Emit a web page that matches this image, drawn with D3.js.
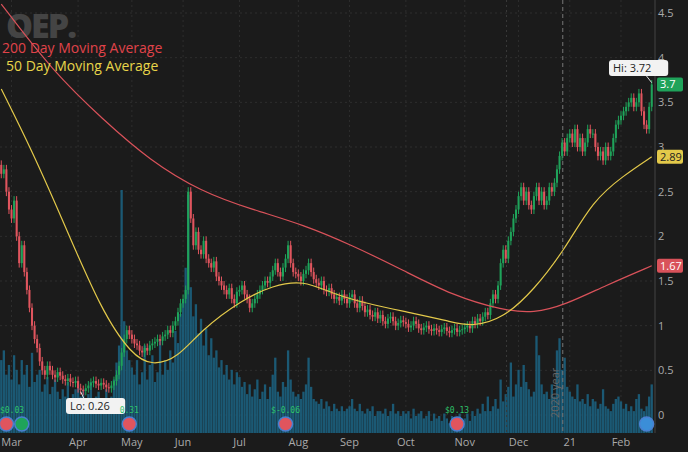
<!DOCTYPE html>
<html><head><meta charset="utf-8">
<script src="https://cdn.jsdelivr.net/npm/d3@7"></script>
<style>body{margin:0;background:#1b1b1b}svg{display:block;font-family:"Open Sans",sans-serif}</style>
</head><body><svg id="c" width="688" height="452"></svg>
<script>
// daily closes, grouped by month (trading days)
var closesFeb0 = [2.70, 2.75, 2.5, 2.3];
var closesMar = [2.2, 2.4, 2.0, 1.7, 1.9, 1.6, 1.4, 1.2, 1.0, 0.85, 0.75, 0.6, 0.5, 0.45, 0.55, 0.5, 0.45, 0.42, 0.48, 0.44, 0.40, 0.38, 0.41, 0.37, 0.36, 0.38];
var closesApr = [0.30, 0.28, 0.27, 0.30, 0.33, 0.36, 0.38, 0.35, 0.33, 0.36, 0.34, 0.31, 0.30, 0.33, 0.38, 0.45, 0.55, 0.70, 0.85, 0.95, 0.90];
var closesMay = [0.85, 0.80, 0.78, 0.72, 0.70, 0.75, 0.72, 0.78, 0.80, 0.82, 0.85, 0.83, 0.88, 0.90, 0.95, 0.92, 1.00, 1.05, 1.15, 1.25];
var closesJun = [1.30, 1.40, 2.50, 2.20, 1.90, 2.05, 1.85, 1.80, 1.95, 1.75, 1.70, 1.65, 1.72, 1.55, 1.50, 1.45, 1.40, 1.35, 1.42, 1.30, 1.25, 1.38];
var closesJul = [1.40, 1.45, 1.35, 1.30, 1.20, 1.25, 1.30, 1.35, 1.40, 1.45, 1.50, 1.48, 1.55, 1.62, 1.70, 1.60, 1.55, 1.65, 1.75, 1.90, 1.70, 1.60, 1.58];
var closesAug = [1.55, 1.50, 1.58, 1.62, 1.70, 1.60, 1.52, 1.48, 1.45, 1.50, 1.40, 1.38, 1.42, 1.35, 1.30, 1.32, 1.28, 1.35, 1.30, 1.25];
var closesSep = [1.32, 1.35, 1.25, 1.20, 1.28, 1.22, 1.15, 1.18, 1.12, 1.10, 1.15, 1.08, 1.12, 1.05, 1.02, 1.08, 1.10, 1.05, 1.00, 1.03, 1.06, 1.04];
var closesOct = [1.02, 0.98, 1.00, 1.05, 1.02, 0.97, 0.95, 0.98, 1.00, 0.96, 0.94, 0.97, 0.95, 0.93, 0.96, 0.98, 0.94, 0.92, 0.95, 0.97, 0.93, 0.95, 0.96];
var closesNov = [0.98, 1.00, 0.97, 1.05, 1.02, 1.08, 1.05, 1.10, 1.15, 1.12, 1.25, 1.35, 1.30, 1.45, 1.70, 1.85, 1.75, 1.95, 2.05, 2.20, 2.30];
var closesDec = [2.45, 2.55, 2.40, 2.50, 2.35, 2.30, 2.45, 2.55, 2.40, 2.50, 2.35, 2.40, 2.55, 2.50, 2.60, 2.75, 2.90, 3.05, 2.95, 3.10];
var closesJan = [3.15, 3.05, 3.20, 3.00, 3.10, 2.95, 3.05, 3.20, 3.15, 3.15, 3.00, 2.90, 2.95, 2.85, 3.00, 2.90, 2.95, 3.10, 3.25, 3.30];
var closesFeb = [3.35, 3.40, 3.45, 3.50, 3.55, 3.45, 3.50, 3.60, 3.40, 3.25, 3.20, 3.45, 3.70];

// daily volume (relative units), same grouping
var volFeb0 = [3.0, 3.4, 2.4, 2.8];
var volMar = [2.2, 3.2, 2.6, 2.0, 3.0, 2.4, 2.8, 1.9, 3.3, 2.1, 2.4, 2.6, 1.7, 2.0, 2.3, 1.6, 1.9, 2.2, 1.7, 1.4, 1.8, 1.5, 2.1, 1.3, 1.6, 1.8];
var volApr = [2.0, 1.5, 1.8, 1.3, 1.6, 2.1, 1.2, 1.5, 1.7, 1.2, 1.4, 1.8, 1.3, 1.5, 2.2, 2.9, 3.6, 10.0, 4.6, 3.4, 3.0];
var volMay = [2.7, 2.4, 3.0, 2.0, 2.5, 3.6, 2.2, 2.8, 3.2, 2.1, 2.5, 3.8, 2.4, 3.0, 2.6, 3.4, 2.9, 4.2, 3.7, 4.9];
var volJun = [5.5, 6.8, 9.8, 6.0, 4.8, 5.3, 4.1, 4.7, 3.6, 4.3, 3.2, 3.9, 3.1, 3.4, 2.7, 3.0, 2.4, 2.8, 2.2, 2.6, 2.0, 2.5];
var volJul = [2.3, 1.9, 2.1, 1.6, 2.0, 1.5, 1.8, 2.2, 1.4, 1.7, 2.0, 1.4, 1.9, 2.4, 3.1, 1.7, 1.5, 2.1, 1.9, 3.4, 2.2, 1.7, 1.5];
var volAug = [1.6, 1.4, 1.7, 2.0, 3.1, 1.9, 1.4, 1.3, 1.2, 1.4, 1.0, 1.3, 1.1, 0.9, 1.2, 1.0, 0.9, 1.1, 0.9, 1.0];
var volSep = [1.1, 1.4, 1.0, 0.9, 1.2, 0.9, 0.8, 1.0, 0.9, 1.1, 0.7, 0.9, 0.9, 0.8, 1.0, 0.7, 0.9, 1.2, 0.8, 0.9, 0.7, 0.9];
var volOct = [0.8, 0.9, 0.6, 1.0, 0.7, 0.8, 0.9, 0.6, 0.7, 0.9, 0.5, 0.8, 0.6, 0.7, 0.5, 0.8, 0.6, 0.4, 0.7, 0.5, 0.6, 0.8, 0.5];
var volNov = [0.6, 0.8, 0.5, 0.9, 0.7, 1.0, 0.8, 1.2, 0.9, 1.5, 0.9, 1.1, 1.4, 1.0, 2.2, 1.3, 1.6, 1.9, 2.9, 1.5, 2.0];
var volDec = [2.6, 1.9, 2.8, 2.1, 1.8, 1.5, 1.7, 4.0, 3.2, 2.0, 1.6, 1.7, 1.4, 2.0, 1.5, 3.4, 3.9, 2.6, 3.1, 1.9];
var volJan = [1.7, 1.5, 1.4, 2.0, 1.3, 1.4, 1.2, 1.6, 1.1, 1.4, 1.3, 1.0, 1.2, 1.8, 1.1, 1.0, 0.9, 1.2, 1.4, 1.5];
var volFeb = [1.3, 1.0, 1.2, 0.9, 1.1, 0.9, 1.4, 1.6, 1.0, 0.9, 1.1, 1.5, 2.0];

var monthLabels = ['Mar', 'Apr', 'May', 'Jun', 'Jul', 'Aug', 'Sep', 'Oct', 'Nov', 'Dec', '21', 'Feb'];
var priceTicks = [0, 0.5, 1, 1.5, 2, 2.5, 3, 3.5, 4, 4.5];

// moving averages sampled at [dayIndex, value]
var ma200 = [[0, 4.6], [20, 3.85], [40, 3.3], [58, 2.85], [78, 2.5], [98, 2.3], [118, 2.13], [137, 1.9], [157, 1.62], [176, 1.34], [196, 1.17], [208, 1.14], [220, 1.23], [236, 1.45], [254, 1.67]];
var ma50 = [[0, 3.65], [12, 2.96], [24, 2.18], [39, 1.17], [51, 0.67], [59, 0.55], [69, 0.64], [78, 0.95], [94, 1.29], [106, 1.45], [118, 1.51], [129, 1.36], [145, 1.23], [161, 1.14], [176, 1.04], [184, 0.99], [196, 1.08], [208, 1.40], [220, 1.85], [231, 2.40], [243, 2.68], [254, 2.89]];

var closeGroups = [closesFeb0, closesMar, closesApr, closesMay, closesJun, closesJul, closesAug, closesSep, closesOct, closesNov, closesDec, closesJan, closesFeb];
var volGroups = [volFeb0, volMar, volApr, volMay, volJun, volJul, volAug, volSep, volOct, volNov, volDec, volJan, volFeb];

var data = [], monthStarts = [];
closeGroups.forEach(function(g, gi){
	if (gi > 0) monthStarts.push(data.length);
	g.forEach(function(c, k){
		var prev = data.length ? data[data.length - 1].c : 2.8;
		data.push({i: data.length, o: prev, c: c, v: volGroups[gi][k] || 1});
	});
});

var svg = d3.select('#c');
var W = 655, baseY = 433;
var x = d3.scaleLinear().domain([-0.5, data.length - 0.5]).range([0, W - 2]);
var y = d3.scaleLinear().domain([0, 4.5]).range([415, 13]);
var vy = d3.scaleLinear().domain([0, 10]).range([baseY, 190]);

svg.append('rect').attr('width', 688).attr('height', 452).attr('fill', '#1b1b1b');

// grid
svg.selectAll('.hg').data(priceTicks).enter().append('line')
	.attr('x1', 0).attr('x2', W).attr('y1', function(d){return y(d);}).attr('y2', function(d){return y(d);})
	.attr('stroke', '#2e2e2e').attr('stroke-dasharray', '2,3');
svg.selectAll('.vg').data(monthStarts).enter().append('line')
	.attr('x1', function(d){return x(d);}).attr('x2', function(d){return x(d);}).attr('y1', 0).attr('y2', baseY)
	.attr('stroke', '#2e2e2e').attr('stroke-dasharray', '2,3');

// watermark ticker
svg.append('text').attr('x', 6).attr('y', 38).attr('font-size', 34).attr('font-weight', 900)
	.attr('letter-spacing', -2).attr('fill', '#444').text('OEP.');

// volume
var bw = (x(1) - x(0));
svg.selectAll('.vol').data(data).enter().append('rect')
	.attr('x', function(d){return x(d.i) - bw * 0.45;}).attr('width', bw * 0.9)
	.attr('y', function(d){return vy(d.v);}).attr('height', function(d){return baseY - vy(d.v);})
	.attr('fill', '#1b6484').attr('opacity', 0.85);

// separators
svg.append('line').attr('x1', x(monthStarts[9]) - 12).attr('x2', x(monthStarts[9]) - 12).attr('y1', 0).attr('y2', baseY)
	.attr('stroke', '#3a3a3a').attr('stroke-dasharray', '2,3');
var yx = x(monthStarts[10]) - 7;
svg.append('line').attr('x1', yx).attr('x2', yx).attr('y1', 0).attr('y2', baseY)
	.attr('stroke', '#777').attr('stroke-dasharray', '4,3');
svg.append('text').attr('transform', 'translate(' + (yx - 4) + ',418) rotate(-90)')
	.attr('font-size', 11).attr('fill', '#666').text('2020 year');

// candles
var cg = svg.selectAll('.cd').data(data).enter().append('g');
cg.append('line').attr('x1', function(d){return x(d.i);}).attr('x2', function(d){return x(d.i);})
	.attr('y1', function(d){return y(Math.max(d.o, d.c) + 0.05);}).attr('y2', function(d){return y(Math.min(d.o, d.c) - 0.05);})
	.attr('stroke', function(d){return d.c >= d.o ? '#1fa35a' : '#e0555e';});
cg.append('rect').attr('x', function(d){return x(d.i) - bw * 0.4;}).attr('width', bw * 0.8)
	.attr('y', function(d){return y(Math.max(d.o, d.c));})
	.attr('height', function(d){return Math.max(1, Math.abs(y(d.o) - y(d.c)));})
	.attr('fill', function(d){return d.c >= d.o ? '#1fa35a' : '#e0555e';});

// moving averages
var line = d3.line().curve(d3.curveBasis).x(function(d){return x(d[0]);}).y(function(d){return y(d[1]);});
svg.append('path').datum(ma200).attr('d', line).attr('fill', 'none').attr('stroke', '#d9525a').attr('stroke-width', 1.2);
svg.append('path').datum(ma50).attr('d', line).attr('fill', 'none').attr('stroke', '#e3c94a').attr('stroke-width', 1.2);

svg.append('text').attr('x', 2).attr('y', 53).attr('font-size', 14).attr('fill', '#e0434a').text('200 Day Moving Average');
svg.append('text').attr('x', 6).attr('y', 71).attr('font-size', 14).attr('fill', '#e8d54a').text('50 Day Moving Average');

// right axis
svg.append('rect').attr('x', W).attr('y', 0).attr('width', 33).attr('height', 452).attr('fill', '#1b1b1b');
svg.append('line').attr('x1', W).attr('x2', W).attr('y1', 0).attr('y2', baseY).attr('stroke', '#444');
svg.selectAll('.pt').data(priceTicks).enter().append('text')
	.attr('x', W + 3).attr('y', function(d){return y(d) + 4;}).attr('font-size', 11).attr('fill', '#aaa').text(function(d){return d;});

function tag(v, txt, bg, fg){
	var g = svg.append('g').attr('transform', 'translate(' + (W + 2) + ',' + (y(v) - 7) + ')');
	g.append('rect').attr('width', 26).attr('height', 14).attr('rx', 2).attr('fill', bg);
	g.append('text').attr('x', 3).attr('y', 11).attr('font-size', 11).attr('fill', fg).text(txt);
}
tag(1.67, '1.67', '#d9525a', '#fff');
tag(2.89, '2.89', '#e3c94a', '#222');
tag(3.70, '3.7', '#1fa35a', '#fff');

// bottom axis
svg.append('rect').attr('x', 0).attr('y', baseY).attr('width', 688).attr('height', 19).attr('fill', '#1b1b1b');
svg.selectAll('.ml').data(monthStarts).enter().append('text')
	.attr('x', function(d){return x(d);}).attr('y', 446).attr('text-anchor', 'middle')
	.attr('font-size', 11).attr('fill', '#aaa').text(function(d, i){return monthLabels[i];});

// hi / lo callouts
function callout(cx, cy, txt){
	var g = svg.append('g').attr('transform', 'translate(' + cx + ',' + cy + ')');
	g.append('rect').attr('x', 0).attr('y', 0).attr('width', txt.length * 6.4 + 8).attr('height', 16).attr('rx', 3).attr('fill', '#f2f2f2');
	g.append('text').attr('x', 4).attr('y', 12).attr('font-size', 11).attr('fill', '#222').text(txt);
}
svg.append('line').attr('x1', x(31)).attr('x2', x(31) + 3).attr('y1', y(0.26)).attr('y2', 398).attr('stroke', '#ddd');
callout(66, 398, 'Lo: 0.26');
svg.append('line').attr('x1', x(254)).attr('x2', x(254) - 6).attr('y1', y(3.72)).attr('y2', 75).attr('stroke', '#ddd');
callout(609, 60, 'Hi: 3.72');

// event markers
var events = [[2, '#e0555e', '$0.03'], [8, '#1fa35a', ''], [50, '#e0555e', '0.31'], [111, '#e0555e', '$-0.06'], [178, '#e0555e', '$0.13'], [252, '#3b8ed8', '']];
events.forEach(function(e){
	var ex = x(e[0]);
	svg.append('circle').attr('cx', ex).attr('cy', 424).attr('r', 7).attr('fill', e[1]).attr('stroke', '#4a7fd0').attr('stroke-width', 1.5);
	if (e[2]) svg.append('text').attr('x', Math.max(ex, 12)).attr('y', 413).attr('text-anchor', 'middle').attr('font-size', 8)
		.attr('font-family', 'DejaVu Sans Mono').attr('fill', '#2ec26a').text(e[2]);
});
</script></body></html>
